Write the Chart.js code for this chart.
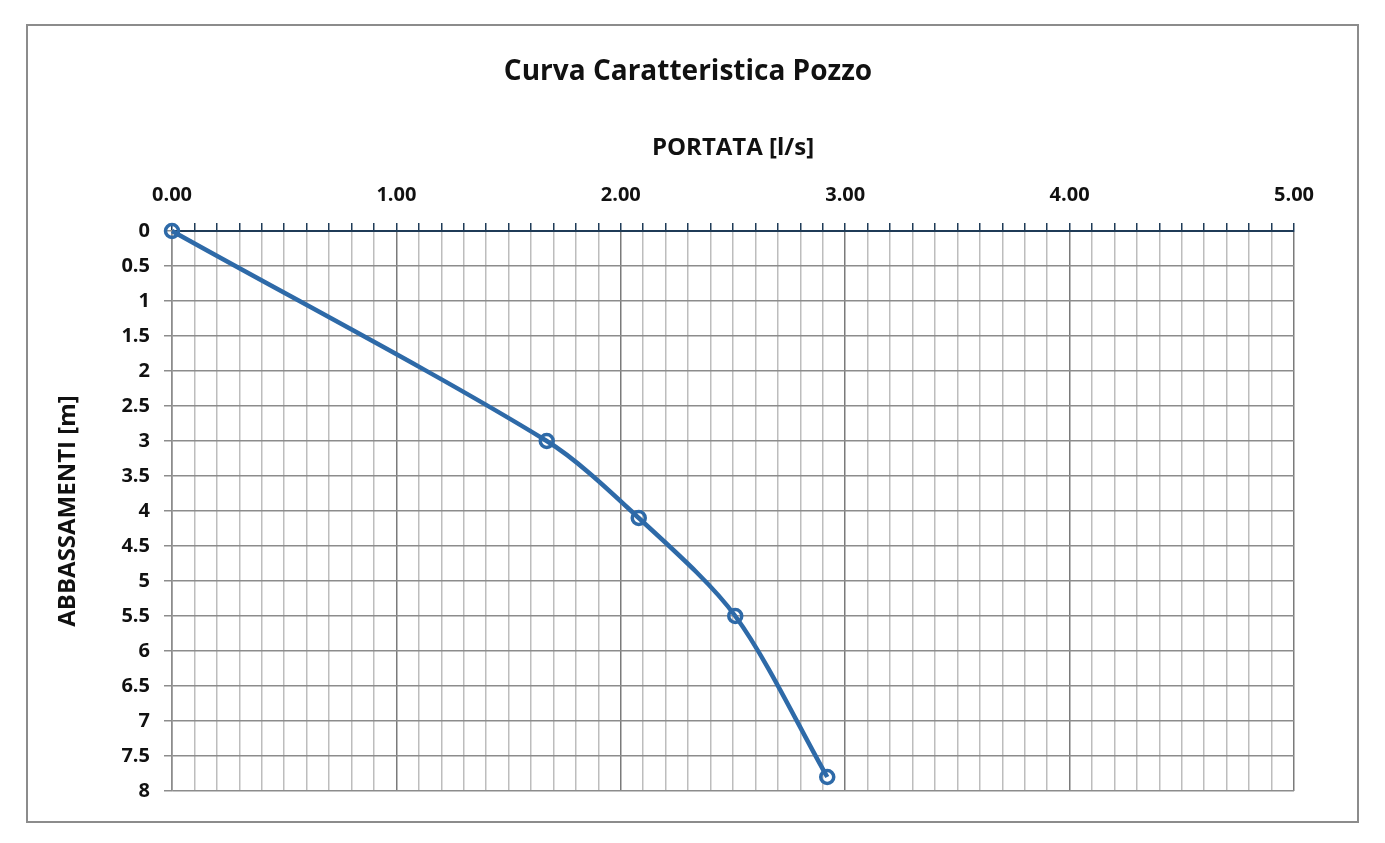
<!DOCTYPE html>
<html><head><meta charset="utf-8">
<script src="https://cdn.jsdelivr.net/npm/chart.js@4"></script>
<style>body{margin:0;background:#fff}canvas{display:block}</style>
</head><body>
<canvas id="c" width="1385" height="843"></canvas>
<script>
const portata = [0.00, 1.67, 2.08, 2.51, 2.92];
const abbassamenti = [0, 3.0, 4.1, 5.5, 7.8];
const chartTitle = 'Curva Caratteristica Pozzo';
const xTitle = 'PORTATA [l/s]';
const yTitle = 'ABBASSAMENTI [m]';
const FONT = "'Open Sans', sans-serif";
const BLUE = '#2e6aa8';

const deco = {
  id: 'deco',
  beforeDraw(ch) {
    const c = ch.ctx; c.save();
    c.fillStyle = '#fff'; c.fillRect(0, 0, ch.width, ch.height);
    c.strokeStyle = '#8c8c8c'; c.lineWidth = 2;
    c.strokeRect(27, 25, 1331, 797);
    c.restore();
  },
  afterDraw(ch) {
    const c = ch.ctx; c.save();
    c.fillStyle = '#111'; c.font = "bold 28px " + FONT;
    c.textAlign = 'center'; c.textBaseline = 'middle';
    c.fillText(chartTitle, 688, 72);
    c.restore();
  }
};

new Chart(document.getElementById('c'), {
  type: 'line',
  data: { datasets: [{
    data: portata.map((x, i) => ({x, y: abbassamenti[i]})),
    borderColor: BLUE, borderWidth: 4.5, tension: 0.3,
    pointRadius: 6.5, pointBorderWidth: 3.5, pointBorderColor: BLUE,
    pointBackgroundColor: 'rgba(255,255,255,0)', clip: false
  }]},
  options: {
    responsive: false, animation: false,
    layout: { padding: { top: 120, left: 40, right: 91, bottom: 52 } },
    plugins: { legend: { display: false }, tooltip: { enabled: false } },
    scales: {
      x: {
        type: 'linear', position: 'top', min: 0, max: 5,
        afterFit: s => { s.height = 111; },
        ticks: { stepSize: 0.1, autoSkip: false, maxRotation: 0, color: '#111', padding: 16,
          font: { family: FONT, size: 20, weight: 'bold' },
          callback: v => Math.abs(v - Math.round(v)) < 1e-6 ? v.toFixed(2) : '' },
        grid: { color: c => (c.tick && Math.abs(c.tick.value - Math.round(c.tick.value)) < 1e-6) ? '#7a7a7a' : '#bdbdbd',
          lineWidth: 1.5, tickLength: 8, tickColor: '#1f3b57' },
        border: { color: '#1f3b57', width: 2 },
        title: { display: true, text: xTitle, color: '#111', padding: { top: 14, bottom: 0 },
          font: { family: FONT, size: 24, weight: 'bold' } }
      },
      y: {
        type: 'linear', reverse: true, min: 0, max: 8,
        afterFit: s => { s.width = 132; },
        ticks: { stepSize: 0.5, autoSkip: false, color: '#111', padding: 14,
          font: { family: FONT, size: 20, weight: 'bold' },
          callback: v => String(v) },
        grid: { color: '#8c8c8c', lineWidth: 1.5, tickLength: 8 },
        border: { color: '#8c8c8c', width: 1.5 },
        title: { display: true, text: yTitle, color: '#111', padding: { top: 14, bottom: 0 },
          font: { family: FONT, size: 24, weight: 'bold' } }
      }
    }
  },
  plugins: [deco]
});
</script>
</body></html>
